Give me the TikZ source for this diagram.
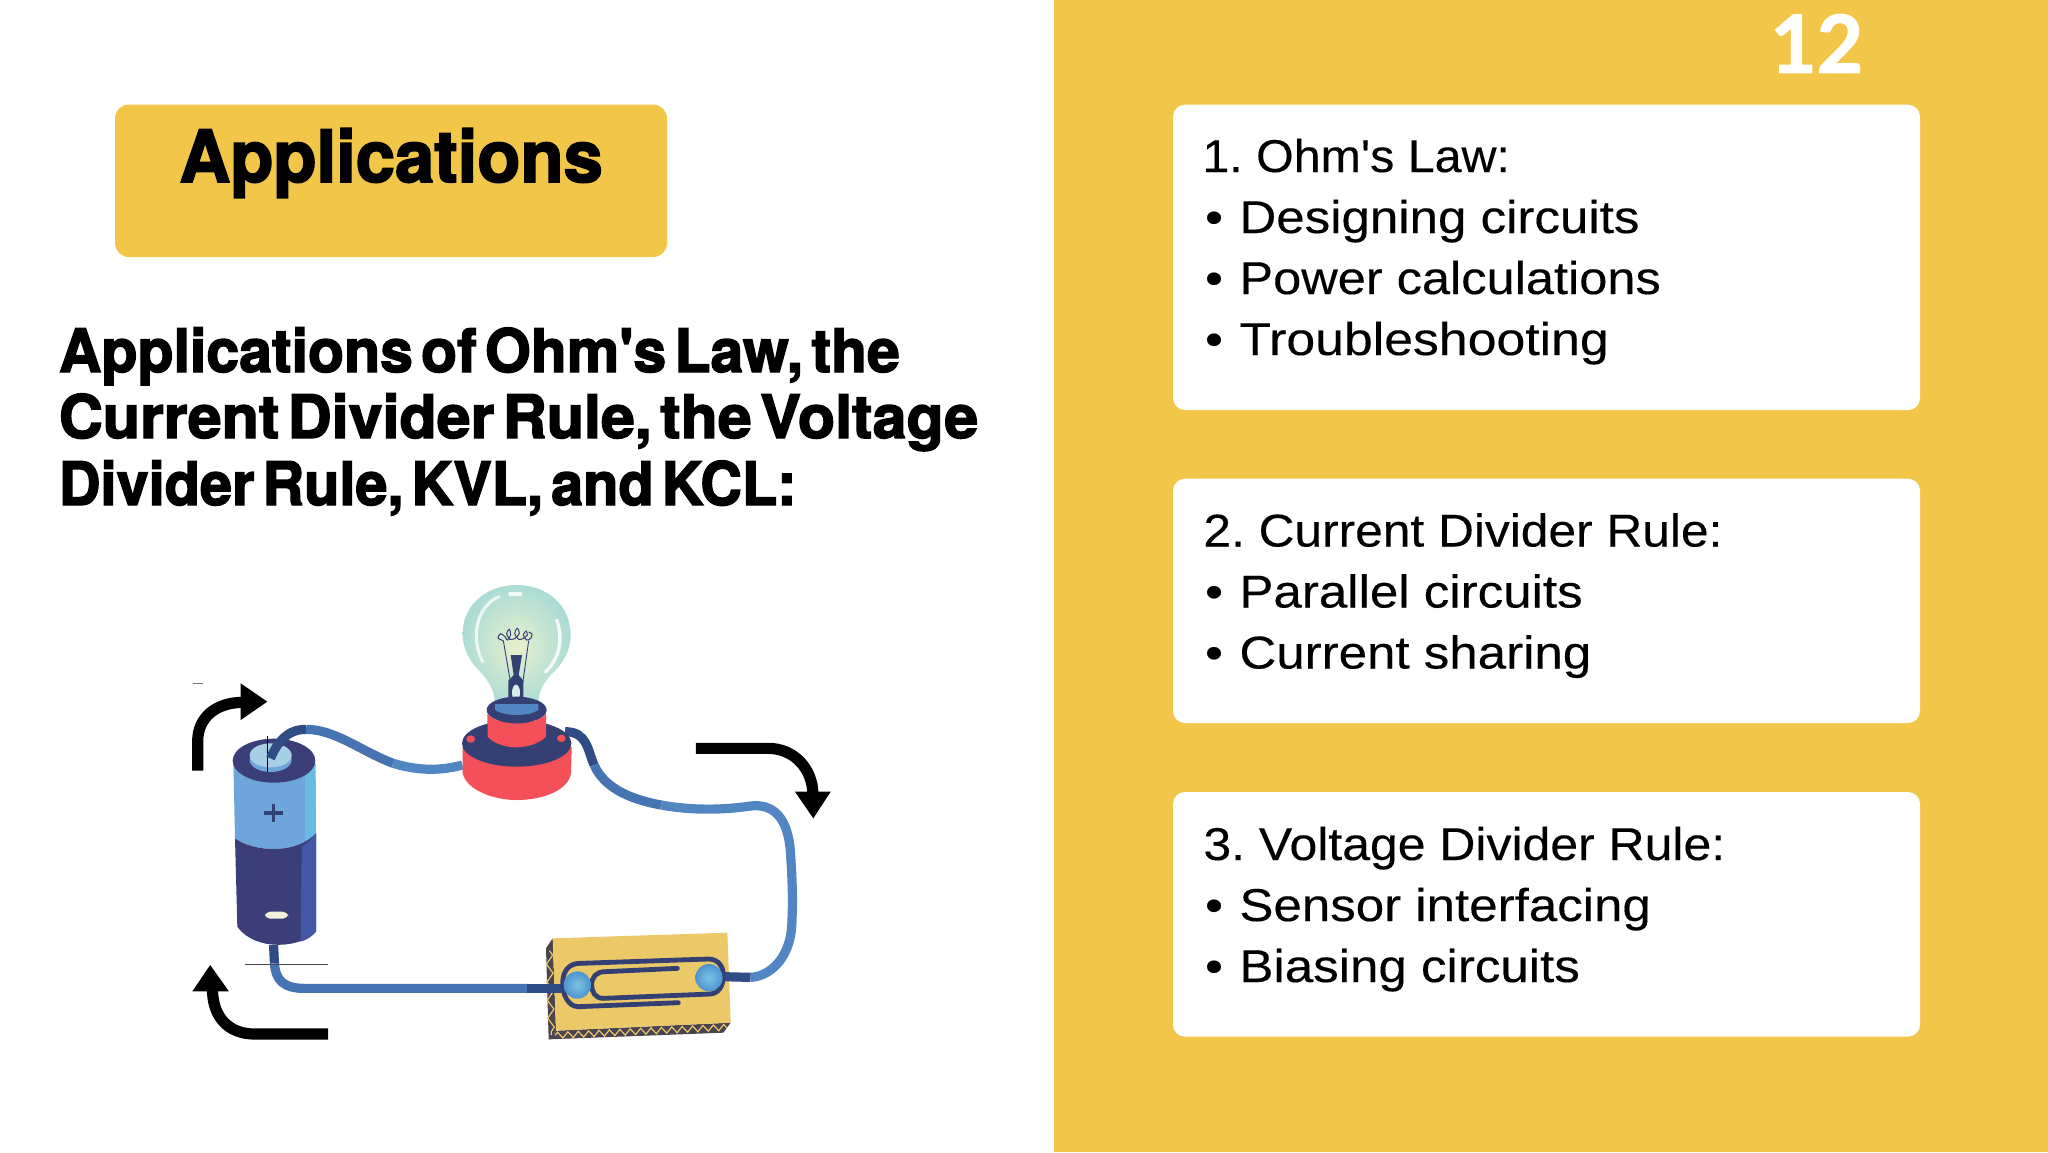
\documentclass[tikz,border=0pt]{standalone}
\usepackage{fontspec}
\usepackage{graphicx}
\usetikzlibrary{decorations.pathmorphing}
\newfontfamily\hdfont[FakeStretch=1.02,FakeBold=2.4,WordSpace=0.5]{TeX Gyre Heros}
\newfontfamily\ttlfont[FakeStretch=0.98,FakeBold=2.4]{TeX Gyre Heros}
\newfontfamily\cardfont[FakeStretch=1.11,FakeBold=0.25]{Liberation Sans}
\newfontfamily\pagefont[FakeBold=1.6]{Lato}
\definecolor{panel}{HTML}{F2C649}
\definecolor{navy}{HTML}{343F74}
\definecolor{wiredark}{HTML}{2F4C86}
\definecolor{wiremid}{HTML}{4674B3}
\definecolor{wirelight}{HTML}{5286C2}
\definecolor{lamp}{HTML}{F4505A}
\definecolor{batlight}{HTML}{6EA6DC}
\definecolor{batedge}{HTML}{66BAE4}
\definecolor{batdark}{HTML}{3B3E78}
\definecolor{batband}{HTML}{4357A6}
\definecolor{board}{HTML}{EBC868}
\definecolor{boardside}{HTML}{4A4350}
\definecolor{glassin}{HTML}{E8F0CC}
\definecolor{glassout}{HTML}{ACDCD5}
\definecolor{ballin}{HTML}{7CC4E4}
\definecolor{ballout}{HTML}{4D93D0}
\definecolor{capface}{HTML}{A8D0E4}
\definecolor{cream}{HTML}{F3F1DE}
\tikzset{
  panelbox/.style={fill=panel,rounded corners=7pt},
  cardbox/.style={fill=white,rounded corners=6pt},
  heading/.style={anchor=base west,inner sep=0pt,font=\hdfont\bfseries\fontsize{30pt}{30pt}\selectfont},
  titletext/.style={anchor=base west,inner sep=0pt,font=\ttlfont\bfseries\fontsize{36pt}{36pt}\selectfont},
  cardline/.style={anchor=base west,inner sep=0pt,font=\cardfont\fontsize{23pt}{23pt}\selectfont},
  cardmark/.style={anchor=base,inner sep=0pt,font=\cardfont\fontsize{23pt}{23pt}\selectfont},
  zoomall/.style={shift={(170,570)},x=0.2232pt,y=-0.16667pt},
  zoombulb/.style={shift={(440,570)},x=0.16667pt,y=-0.16667pt},
  zoombat/.style={shift={(180,670)},x=0.16667pt,y=-0.16667pt},
  zoomsw/.style={shift={(530,920)},x=0.16667pt,y=-0.16667pt},
  wire/.style={line width=4.6pt},
  bigarrow/.style={line width=5.6pt,black},
}
\frenchspacing
\begin{document}
\begin{tikzpicture}[x=0.5pt,y=-0.5pt]
\useasboundingbox (0,0) rectangle (2048,1152);
\fill[white] (0,0) rectangle (2048,1152);
\fill[panel] (1054,0) rectangle (2048,1152);
% title + heading
\fill[panelbox] (115,104.5) rectangle (667,257);
\node[titletext] (title) at (179,182) {Applications};
\node[heading] (h1) at (58.5,372) {\scalebox{0.964}[1]{Applications of Ohm's Law, the}};
\node[heading] (h2) at (58.5,438) {\scalebox{0.996}[1]{Current Divider Rule, the Voltage}};
\node[heading] (h3) at (58.5,505) {\scalebox{0.943}[1]{Divider Rule, KVL, and KCL:}};
% page number
\node[anchor=base west,inner sep=0pt,text=white,font=\pagefont\bfseries\fontsize{40pt}{40pt}\selectfont] (pageno) at (1770,72.7) {12};
% cards
\fill[cardbox] (1173,104.7) rectangle (1920,410);
\fill[cardbox] (1173,478.7) rectangle (1920,723);
\fill[cardbox] (1173,792) rectangle (1920,1036.7);
\node[cardline] (a0) at (1202,172) {\scalebox{0.947}[1]{1. Ohm's Law:}};
\node[cardmark] (am1) at (1214,233) {•};
\node[cardline] (a1) at (1239,233) {Designing circuits};
\node[cardmark] (am2) at (1214,294) {•};
\node[cardline] (a2) at (1239,294) {\scalebox{0.99}[1]{Power calculations}};
\node[cardmark] (am3) at (1214,355) {•};
\node[cardline] (a3) at (1239,355) {\scalebox{1.014}[1]{Troubleshooting}};
\node[cardline] (b0) at (1203,546.5) {\scalebox{0.973}[1]{2. Current Divider Rule:}};
\node[cardmark] (bm1) at (1214,607.5) {•};
\node[cardline] (b1) at (1239,607.5) {Parallel circuits};
\node[cardmark] (bm2) at (1214,668.5) {•};
\node[cardline] (b2) at (1239,668.5) {Current sharing};
\node[cardline] (c0) at (1203,860) {\scalebox{0.978}[1]{3. Voltage Divider Rule:}};
\node[cardmark] (cm1) at (1214,921) {•};
\node[cardline] (c1) at (1239,921) {Sensor interfacing};
\node[cardmark] (cm2) at (1214,982) {•};
\node[cardline] (c2) at (1239,982) {Biasing circuits};

% switch board
\begin{scope}[zoomsw]
\fill[boardside] (68,55) -- (48,85) -- (56,358) -- (78,332) -- cycle;
\fill[boardside] (78,332) -- (56,358) -- (580,338) -- (602,308) -- cycle;
\fill[board] (68,55) -- (592,38) -- (602,308) -- (78,332) -- cycle;
\draw[board,line width=0.6pt,decorate,decoration={zigzag,segment length=9pt,amplitude=1.6pt}] (58,92) -- (64,345);
\draw[board,line width=0.6pt,decorate,decoration={zigzag,segment length=5.2pt,amplitude=1.5pt}] (75,346) -- (590,322);
\end{scope}

% wires
\begin{scope}[zoomall]
\draw[wire,wiredark] (232,1125) -- (234,1180);
\draw[wire,wiremid] (234,1180) .. controls (236,1230) and (255,1255) .. (300,1255) -- (800,1255);
\draw[wire,wiredark] (800,1255) -- (880,1255);
\draw[wire,wiredark] (885,485) .. controls (935,485) and (935,540) .. (950,585);
\draw[wire,wiremid] (950,585) .. controls (975,660) and (1040,690) .. (1100,705);
\draw[wire,wirelight] (1100,705) .. controls (1170,722) and (1240,720) .. (1300,708) .. controls (1350,700) and (1385,740) .. (1390,850) .. controls (1395,950) and (1395,1000) .. (1393,1060) .. controls (1390,1170) and (1340,1220) .. (1300,1222);
\draw[wire,wiredark] (1300,1222) -- (1240,1220);
\end{scope}

% paper clip and contacts
\begin{scope}[zoomsw]
\draw[navy,line width=2.4pt,line cap=round] (445,248) -- (145,260) .. controls (115,260) and (98,225) .. (98,190) .. controls (98,155) and (115,130) .. (150,130) -- (535,117) .. controls (565,117) and (580,140) .. (580,165) .. controls (580,200) and (565,220) .. (540,222) -- (220,235) .. controls (195,235) and (185,215) .. (185,195) .. controls (185,170) and (200,155) .. (225,155) -- (442,145);
\shade[inner color=ballin,outer color=ballout] (142,195) circle (41);
\shade[inner color=ballin,outer color=ballout] (537,173) circle (41);
\end{scope}

% battery
\begin{scope}[zoombat]
\fill[batlight] (160,275) -- (165,505) .. controls (210,540) and (340,560) .. (408,490) -- (406,280) -- cycle;
\fill[batedge] (375,280) -- (375,515) .. controls (390,510) and (400,500) .. (408,490) -- (406,280) -- cycle;
\fill[batdark] (165,505) .. controls (210,540) and (340,560) .. (408,490) -- (408,785) .. controls (370,830) and (230,850) .. (172,770) -- cycle;
\fill[batband] (365,530) .. controls (385,520) and (400,500) .. (408,490) -- (408,785) .. controls (395,800) and (380,810) .. (362,815) -- cycle;
\fill[batdark] (282,272) ellipse (124 and 66);
\fill[batlight] (272,270) ellipse (63 and 36);
\fill[capface] (272,256) ellipse (63 and 36);
\draw[navy,line width=1.7pt] (252,429) -- (308,429) (280,403) -- (280,455);
\fill[cream,rounded corners=2.5pt] (255,725) rectangle (324,746);
\draw[black,line width=0.5pt] (262,198) -- (262,305);
\draw[black!70,line width=0.4pt] (195,883) -- (445,883);
\draw[black!55,line width=0.5pt] (38,40) -- (70,40);
\end{scope}
\begin{scope}[zoomall]
\draw[wire,wiredark] (225,565) .. controls (240,520) and (260,478) .. (305,478);
\draw[wire,wiremid] (305,478) .. controls (370,478) and (430,545) .. (500,580);
\draw[wire,wirelight] (500,580) .. controls (550,600) and (600,605) .. (655,585);
\end{scope}

% lamp
\begin{scope}[zoombulb]
\shade[inner color=glassin,outer color=glassout] (165,410) .. controls (165,360) and (150,340) .. (125,310) .. controls (85,270) and (68,235) .. (68,190) .. controls (68,105) and (140,45) .. (230,45) .. controls (320,45) and (392,105) .. (392,195) .. controls (392,240) and (370,280) .. (335,312) .. controls (310,340) and (295,360) .. (295,410) -- cycle;
\draw[white,opacity=.75,line width=1.5pt,line cap=round] (178,80) .. controls (120,100) and (85,190) .. (128,275);
\draw[white,opacity=.85,line width=1.7pt,line cap=round] (210,72) -- (242,72);
\draw[white,opacity=.85,line width=1.7pt,line cap=round] (350,150) .. controls (372,210) and (355,270) .. (317,305);
\draw[navy,line width=0.45pt] (190,212) -- (212,340) (266,212) -- (248,340);
\draw[navy,line width=0.5pt] plot[smooth] coordinates {(190,212) (174,204) (182,191) (195,200) (202,210) (212,195) (208,178) (200,190) (210,208) (225,205) (238,190) (232,175) (224,190) (236,208) (250,205) (262,195) (258,183) (250,195) (260,210) (272,205) (276,192) (266,186)};
\fill[navy] (212,255) -- (246,255) -- (236,315) -- (250,332) -- (250,400) -- (205,400) -- (205,332) -- (221,315) -- cycle;
\fill[white!85!teal] (228,368) ellipse (12 and 24);
% lower red part
\fill[lamp] (68,530) -- (68,610) .. controls (80,660) and (160,690) .. (230,690) .. controls (310,690) and (385,660) .. (393,610) -- (395,530) -- cycle;
\fill[navy] (230,520) ellipse (164 and 70);
% collar
\fill[navy] (230,420) ellipse (90 and 40);
\fill[wirelight] (165,402) -- (295,402) -- (295,420) .. controls (265,440) and (195,440) .. (165,420) -- cycle;
\fill[lamp] (142,432) .. controls (180,470) and (280,470) .. (318,432) -- (318,500) .. controls (300,520) and (260,532) .. (230,532) .. controls (195,532) and (160,520) .. (143,500) -- cycle;
\fill[lamp] (92,507) ellipse (13 and 11);
\fill[lamp] (364,505) ellipse (13 and 11);
\end{scope}

% current arrows
\begin{scope}[zoombat]
\draw[bigarrow] (53,302) -- (53,215) .. controls (53,140) and (110,97) .. (190,97);
\fill[black] (182,40) -- (262,95) -- (182,150) -- cycle;
\end{scope}
\begin{scope}[zoomall]
\draw[bigarrow] (1178,535) -- (1340,535) .. controls (1400,535) and (1440,600) .. (1440,672);
\fill[black] (1400,665) -- (1480,665) -- (1441,745) -- cycle;
\draw[bigarrow] (354,1392) -- (190,1392) .. controls (130,1392) and (95,1340) .. (95,1255);
\fill[black] (50,1264) -- (132,1264) -- (90,1185) -- cycle;
\end{scope}
\end{tikzpicture}
\end{document}
